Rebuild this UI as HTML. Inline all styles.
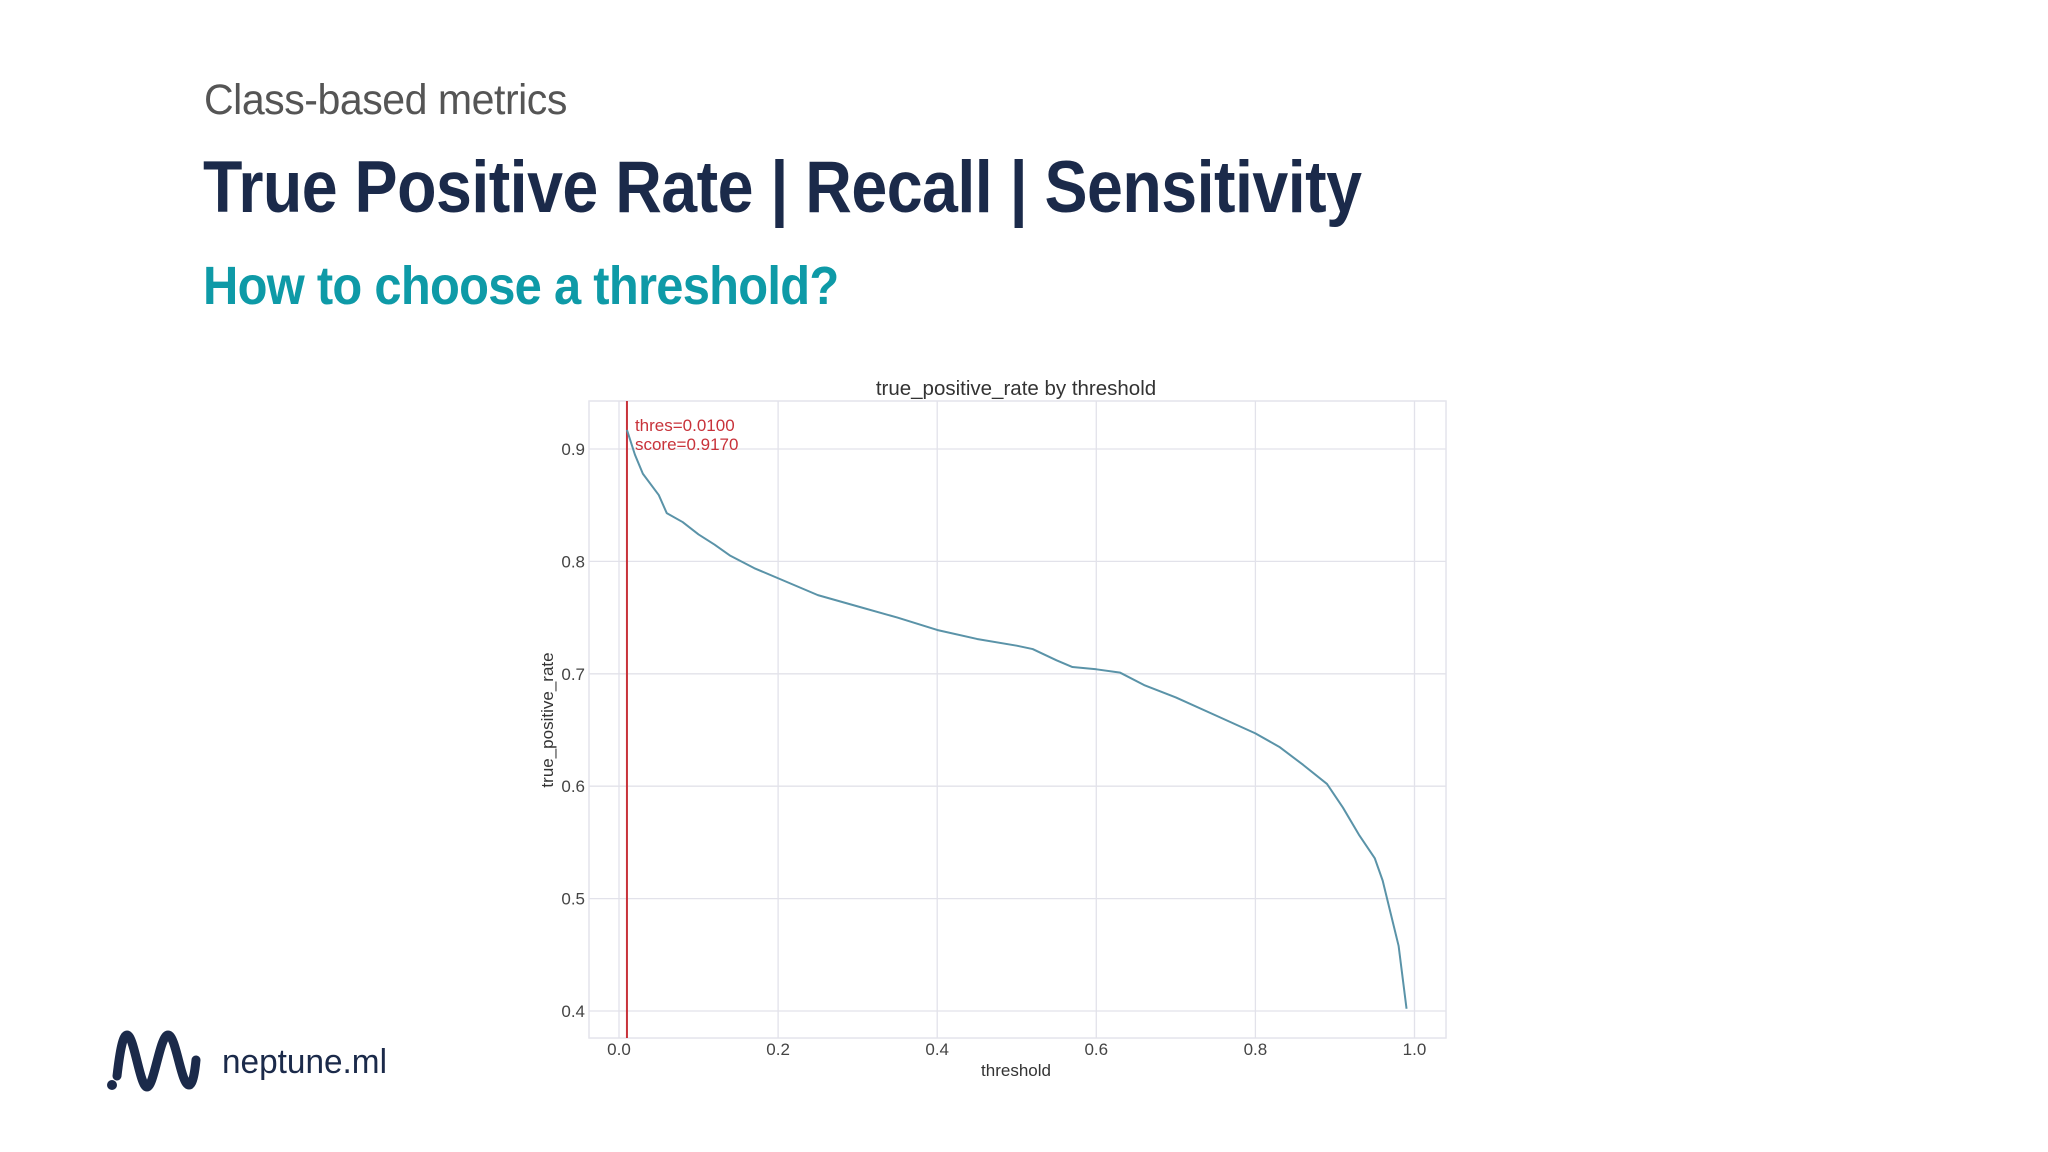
<!DOCTYPE html>
<html><head><meta charset="utf-8"><style>
body{margin:0;width:2048px;height:1152px;background:#fff;position:relative;overflow:hidden;font-family:"Liberation Sans",sans-serif}
.t{position:absolute;white-space:nowrap;margin:0;transform-origin:0 0}
</style></head><body>
<div class="t" style="left:204px;top:76px;font-size:43px;color:#555;letter-spacing:-0.5px;transform:scaleX(0.955)">Class-based metrics</div>
<div class="t" style="left:203px;top:146px;font-size:73px;font-weight:bold;color:#1b2a4a;letter-spacing:-0.6px;transform:scaleX(0.884)">True Positive Rate | Recall | Sensitivity</div>
<div class="t" style="left:203px;top:255px;font-size:54px;font-weight:bold;color:#0e9aa7;letter-spacing:-0.8px;transform:scaleX(0.905)">How to choose a threshold?</div>

<svg id="chart" width="2048" height="1152" style="position:absolute;left:0;top:0" font-family="Liberation Sans, sans-serif"></svg>

<svg width="320" height="110" style="position:absolute;left:90px;top:1010px">
<circle cx="22" cy="75" r="5" fill="#1b2a4a"/>
<path d="M27 66 C30 40 33 25 37 25 C44 25 50 77 57 77 C64 77 70 25 78 25 C86 25 91 75 99 75 C103 75 105 60 106 50" fill="none" stroke="#1b2a4a" stroke-width="9" stroke-linecap="round"/>
<text x="132" y="63" font-size="34" fill="#1b2a4a" font-family="Liberation Sans, sans-serif" textLength="165" lengthAdjust="spacingAndGlyphs">neptune.ml</text>
</svg>

<script>
const xs=[0.01,0.02,0.03,0.05,0.06,0.08,0.10,0.12,0.14,0.17,0.20,0.22,0.25,0.30,0.35,0.40,0.45,0.50,0.52,0.55,0.57,0.60,0.63,0.66,0.70,0.75,0.80,0.83,0.86,0.89,0.91,0.93,0.95,0.96,0.97,0.98,0.99];
const tpr=[0.917,0.895,0.878,0.859,0.843,0.835,0.824,0.815,0.805,0.794,0.785,0.779,0.770,0.760,0.750,0.739,0.731,0.725,0.722,0.712,0.706,0.704,0.701,0.690,0.679,0.663,0.647,0.635,0.619,0.602,0.581,0.557,0.536,0.516,0.487,0.458,0.402];
const xTicks=[0,0.2,0.4,0.6,0.8,1.0];
const xTickLabels=["0.0","0.2","0.4","0.6","0.8","1.0"];
const yTicks=[0.4,0.5,0.6,0.7,0.8,0.9];
const yTickLabels=["0.4","0.5","0.6","0.7","0.8","0.9"];
const bestThres=0.01, bestScore=0.917;

const svg=document.getElementById('chart');
const NS='http://www.w3.org/2000/svg';
const L=589,R=1446,T=401,B=1038;
const X=v=>619+v*795.5;
const Y=v=>449+(0.9-v)*1124;
function mk(tag,attrs,parent){const e=document.createElementNS(NS,tag);for(const k in attrs)e.setAttribute(k,attrs[k]);(parent||svg).appendChild(e);return e;}

const frame=mk('rect',{x:L,y:T,width:R-L,height:B-T,fill:'#fff',stroke:'#e4e4ec','stroke-width':1.5});



xTicks.forEach((v,i)=>{
  const g=mk('line',{x1:X(v),x2:X(v),y1:T,y2:B,stroke:'#e2e2ea','stroke-width':1.3});
  
  
  const t=mk('text',{x:X(v),y:B+17,'font-size':17,fill:'#444','text-anchor':'middle'});
  t.textContent=xTickLabels[i];
  
  
});
yTicks.forEach((v,i)=>{
  const g=mk('line',{x1:L,x2:R,y1:Y(v),y2:Y(v),stroke:'#e2e2ea','stroke-width':1.3});
  
  
  const t=mk('text',{x:585,y:Y(v)+6,'font-size':17,fill:'#444','text-anchor':'end'});
  t.textContent=yTickLabels[i];
  
  
});

const vl=mk('line',{x1:X(bestThres),x2:X(bestThres),y1:T,y2:B,stroke:'#c8323a','stroke-width':2});



const path=mk('polyline',{points:xs.map((x,i)=>X(x)+','+Y(tpr[i])).join(' '),fill:'none',stroke:'#5a93a8','stroke-width':2,'stroke-linejoin':'round'});



const a1=mk('text',{x:X(bestThres)+8,y:431,'font-size':17,fill:'#c8323a'});
a1.textContent='thres='+bestThres.toFixed(4);


const a2=mk('text',{x:X(bestThres)+8,y:450,'font-size':17,fill:'#c8323a'});
a2.textContent='score='+bestScore.toFixed(4);



const ti=mk('text',{x:1016,y:395,'font-size':20.5,fill:'#333','text-anchor':'middle'});
ti.textContent='true_positive_rate by threshold';


const xl=mk('text',{x:1016,y:1076,'font-size':17,fill:'#333','text-anchor':'middle'});
xl.textContent='threshold';


const yl=mk('text',{x:0,y:0,'font-size':17,fill:'#333','text-anchor':'middle',transform:'translate(553,720) rotate(-90)'});
yl.textContent='true_positive_rate';


</script>
</body></html>
